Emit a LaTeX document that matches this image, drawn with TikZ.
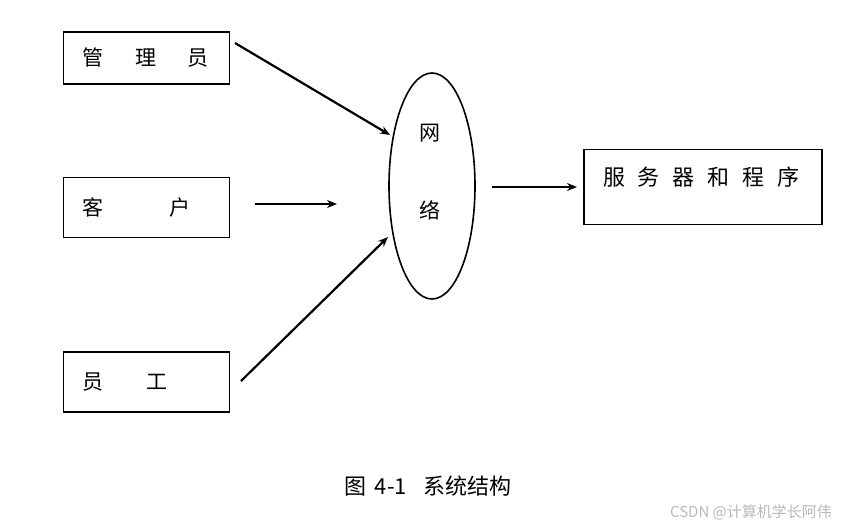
\documentclass[tikz,border=0pt]{standalone}
\usepackage{fontspec}
\setmainfont{Noto Sans CJK SC}
\usetikzlibrary{arrows.meta,shapes.geometric}
\begin{document}
\begin{tikzpicture}[x=1pt,y=-1pt,
  box/.style={draw,line width=1.6pt,minimum width=166pt,minimum height=52pt,inner xsep=19pt,
    text width=128pt,align=left,font=\fontsize{21}{25}\selectfont},
  word/.style={font=\fontsize{21}{25}\selectfont},
  arr/.style={-{Stealth[length=10pt,width=8pt]},line width=2.2pt}]
\useasboundingbox (0,0) rectangle (864,528);
% users
\node[box] (gly) at (146.5,58) {管\hspace{32pt}理\hspace{31pt}员};
\node[box,minimum height=60pt] (kh) at (146.5,207.5) {客\hspace{66pt}户};
\node[box,minimum height=60pt] (yg) at (146.5,382) {员\hspace{43pt}工};
% network
\node[ellipse,draw,line width=1.6pt,minimum width=86pt,minimum height=226pt] (net) at (432,186) {};
\node[word] (wang) at (430,133) {网};
\node[word] (luo) at (430,210) {络};
% server
\node[box,minimum width=238pt,text width=200pt,minimum height=75pt,text depth=21pt,
  font=\fontsize{22}{26}\selectfont] (fwq) at (703,187)
  {服\hspace{13pt}务\hspace{13pt}器\hspace{13pt}和\hspace{13pt}程\hspace{13pt}序};
% arrow ends
\coordinate (gly-out) at (235,43);  \coordinate (net-in1) at (390,135);
\coordinate (kh-out) at (255,204);  \coordinate (net-in2) at (337,204);
\coordinate (yg-out) at (241,381);  \coordinate (net-in3) at (388,237);
\coordinate (net-out) at (492,187); \coordinate (fwq-in) at (577,187);
\draw[arr] (gly-out) -- (net-in1);
\draw[arr] (kh-out) -- (net-in2);
\draw[arr] (yg-out) -- (net-in3);
\draw[arr] (net-out) -- (fwq-in);
% caption
\node[font=\fontsize{22}{26}\selectfont] (cap) at (428,486) {图\hspace{8pt}4-1\hspace{16pt}系统结构};
\node[text=gray!55,font=\fontsize{15}{18}\selectfont] (wm) at (751,512) {CSDN @计算机学长阿伟};
\end{tikzpicture}
\end{document}
